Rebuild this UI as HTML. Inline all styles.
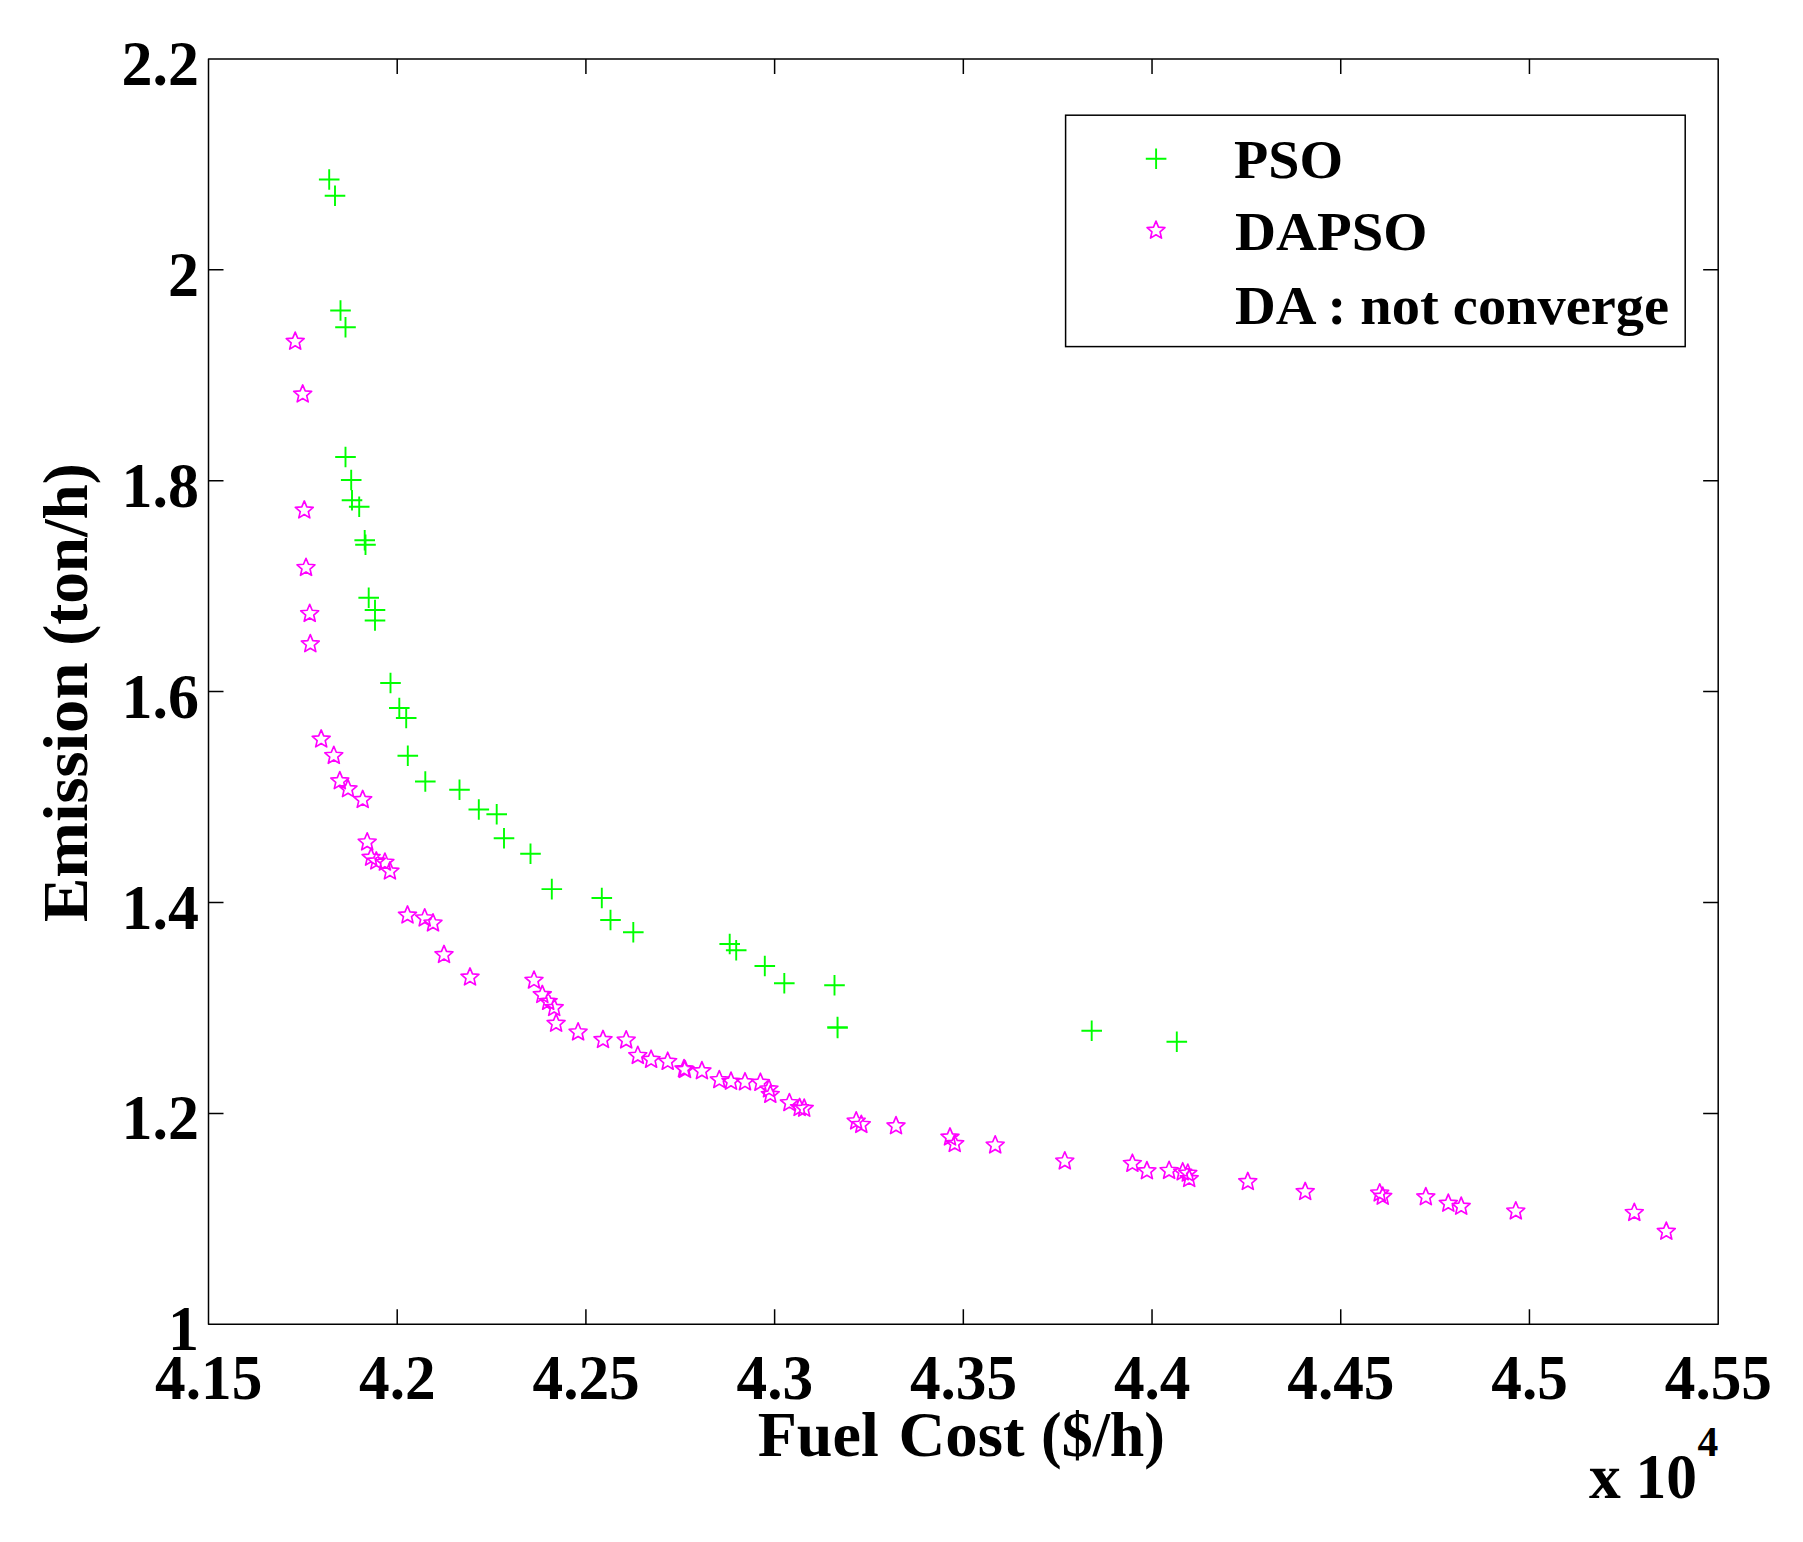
<!DOCTYPE html>
<html lang="en"><head><meta charset="utf-8"><title>Fuel Cost vs Emission</title>
<style>html,body{margin:0;padding:0;background:#fff}body{width:1803px;height:1542px;overflow:hidden}svg{display:block}text{font-family:"Liberation Serif","DejaVu Serif",serif;font-weight:bold;fill:#000}</style></head><body>
<svg width="1803" height="1542" viewBox="0 0 1803 1542">
<rect x="0" y="0" width="1803" height="1542" fill="#fff"/>
<g fill="none" stroke="#000" stroke-width="1.5" stroke-linejoin="round">
<rect x="208.5" y="58.9" width="1509.7" height="1265.4"/>
<path d="M397.21 1324.30V1309.30M397.21 58.90V73.90M585.91 1324.30V1309.30M585.91 58.90V73.90M774.62 1324.30V1309.30M774.62 58.90V73.90M963.33 1324.30V1309.30M963.33 58.90V73.90M1152.03 1324.30V1309.30M1152.03 58.90V73.90M1340.74 1324.30V1309.30M1340.74 58.90V73.90M1529.44 1324.30V1309.30M1529.44 58.90V73.90M208.50 1113.40H223.50M1718.15 1113.40H1703.15M208.50 902.50H223.50M1718.15 902.50H1703.15M208.50 691.60H223.50M1718.15 691.60H1703.15M208.50 480.70H223.50M1718.15 480.70H1703.15M208.50 269.80H223.50M1718.15 269.80H1703.15"/>
</g>
<g font-size="63.5" text-anchor="middle">
<text x="208.7" y="1398.9" textLength="107.2" lengthAdjust="spacingAndGlyphs">4.15</text>
<text x="397.4" y="1398.9" textLength="76.6" lengthAdjust="spacingAndGlyphs">4.2</text>
<text x="586.1" y="1398.9" textLength="107.2" lengthAdjust="spacingAndGlyphs">4.25</text>
<text x="774.8" y="1398.9" textLength="76.6" lengthAdjust="spacingAndGlyphs">4.3</text>
<text x="963.5" y="1398.9" textLength="107.2" lengthAdjust="spacingAndGlyphs">4.35</text>
<text x="1152.2" y="1398.9" textLength="76.6" lengthAdjust="spacingAndGlyphs">4.4</text>
<text x="1340.9" y="1398.9" textLength="107.2" lengthAdjust="spacingAndGlyphs">4.45</text>
<text x="1529.6" y="1398.9" textLength="76.6" lengthAdjust="spacingAndGlyphs">4.5</text>
<text x="1718.4" y="1398.9" textLength="107.2" lengthAdjust="spacingAndGlyphs">4.55</text>
</g>
<g font-size="63.5" text-anchor="end">
<text x="199.0" y="1350.3" textLength="31.0" lengthAdjust="spacingAndGlyphs">1</text>
<text x="199.0" y="1139.4" textLength="77.4" lengthAdjust="spacingAndGlyphs">1.2</text>
<text x="199.0" y="928.5" textLength="77.4" lengthAdjust="spacingAndGlyphs">1.4</text>
<text x="199.0" y="717.6" textLength="77.4" lengthAdjust="spacingAndGlyphs">1.6</text>
<text x="199.0" y="506.7" textLength="77.4" lengthAdjust="spacingAndGlyphs">1.8</text>
<text x="199.0" y="295.8" textLength="31.0" lengthAdjust="spacingAndGlyphs">2</text>
<text x="199.0" y="84.9" textLength="77.4" lengthAdjust="spacingAndGlyphs">2.2</text>
</g>
<text y="1456.4" font-size="63"><tspan x="757.7" textLength="121" lengthAdjust="spacingAndGlyphs">Fuel</tspan> <tspan x="898.5" textLength="126" lengthAdjust="spacingAndGlyphs">Cost</tspan> <tspan x="1041" textLength="124" lengthAdjust="spacingAndGlyphs">($/h)</tspan></text>
<text transform="translate(86.7 922.3) rotate(-90)" font-size="63"><tspan x="0" textLength="260" lengthAdjust="spacingAndGlyphs">Emission</tspan> <tspan x="276.5" textLength="182.5" lengthAdjust="spacingAndGlyphs">(ton/h)</tspan></text>
<text x="1589" y="1497.9" font-size="63.5">x</text>
<text x="1635.5" y="1497.9" font-size="63.5" textLength="61.5" lengthAdjust="spacingAndGlyphs">10</text>
<text x="1697.6" y="1455.8" font-size="41.5">4</text>
<path fill="none" stroke="#00ff00" stroke-width="1.9" d="M318.90 179.50H339.50M329.20 169.20V189.80M324.70 195.80H345.30M335.00 185.50V206.10M330.20 310.50H350.80M340.50 300.20V320.80M335.20 327.20H355.80M345.50 316.90V337.50M335.20 457.00H355.80M345.50 446.70V467.30M340.90 480.00H361.50M351.20 469.70V490.30M341.70 500.20H362.30M352.00 489.90V510.50M348.90 506.80H369.50M359.20 496.50V517.10M354.40 540.20H375.00M364.70 529.90V550.50M355.20 544.80H375.80M365.50 534.50V555.10M358.40 597.80H379.00M368.70 587.50V608.10M364.70 610.00H385.30M375.00 599.70V620.30M364.70 620.50H385.30M375.00 610.20V630.80M380.20 683.00H400.80M390.50 672.70V693.30M389.00 708.00H409.60M399.30 697.70V718.30M395.90 718.00H416.50M406.20 707.70V728.30M397.50 755.70H418.10M407.80 745.40V766.00M415.00 781.50H435.60M425.30 771.20V791.80M449.20 789.70H469.80M459.50 779.40V800.00M468.50 809.50H489.10M478.80 799.20V819.80M486.40 814.30H507.00M496.70 804.00V824.60M493.70 838.30H514.30M504.00 828.00V848.60M520.20 853.80H540.80M530.50 843.50V864.10M541.50 889.10H562.10M551.80 878.80V899.40M591.50 898.00H612.10M601.80 887.70V908.30M600.20 920.00H620.80M610.50 909.70V930.30M623.00 932.20H643.60M633.30 921.90V942.50M719.40 944.00H740.00M729.70 933.70V954.30M725.90 950.30H746.50M736.20 940.00V960.60M754.50 966.00H775.10M764.80 955.70V976.30M774.00 983.30H794.60M784.30 973.00V993.60M824.20 985.20H844.80M834.50 974.90V995.50M827.20 1027.10H847.80M837.50 1016.80V1037.40M827.30 1027.90H847.90M837.60 1017.60V1038.20M1081.40 1030.80H1102.00M1091.70 1020.50V1041.10M1166.50 1041.70H1187.10M1176.80 1031.40V1052.00"/>
<path fill="none" stroke="#ff00ff" stroke-width="1.65" stroke-linejoin="round" d="M295.20 332.10L297.69 338.08L304.14 338.60L299.22 342.81L300.73 349.10L295.20 345.73L289.67 349.10L291.18 342.81L286.26 338.60L292.71 338.08ZM302.70 384.90L305.19 390.88L311.64 391.40L306.72 395.61L308.23 401.90L302.70 398.53L297.17 401.90L298.68 395.61L293.76 391.40L300.21 390.88ZM304.30 500.90L306.79 506.88L313.24 507.40L308.32 511.61L309.83 517.90L304.30 514.53L298.77 517.90L300.28 511.61L295.36 507.40L301.81 506.88ZM306.00 558.30L308.49 564.28L314.94 564.80L310.02 569.01L311.53 575.30L306.00 571.93L300.47 575.30L301.98 569.01L297.06 564.80L303.51 564.28ZM309.70 604.30L312.19 610.28L318.64 610.80L313.72 615.01L315.23 621.30L309.70 617.93L304.17 621.30L305.68 615.01L300.76 610.80L307.21 610.28ZM310.30 634.60L312.79 640.58L319.24 641.10L314.32 645.31L315.83 651.60L310.30 648.23L304.77 651.60L306.28 645.31L301.36 641.10L307.81 640.58ZM321.20 729.90L323.69 735.88L330.14 736.40L325.22 740.61L326.73 746.90L321.20 743.53L315.67 746.90L317.18 740.61L312.26 736.40L318.71 735.88ZM333.80 746.30L336.29 752.28L342.74 752.80L337.82 757.01L339.33 763.30L333.80 759.93L328.27 763.30L329.78 757.01L324.86 752.80L331.31 752.28ZM339.80 771.60L342.29 777.58L348.74 778.10L343.82 782.31L345.33 788.60L339.80 785.23L334.27 788.60L335.78 782.31L330.86 778.10L337.31 777.58ZM348.00 779.60L350.49 785.58L356.94 786.10L352.02 790.31L353.53 796.60L348.00 793.23L342.47 796.60L343.98 790.31L339.06 786.10L345.51 785.58ZM362.70 790.40L365.19 796.38L371.64 796.90L366.72 801.11L368.23 807.40L362.70 804.03L357.17 807.40L358.68 801.11L353.76 796.90L360.21 796.38ZM367.20 832.80L369.69 838.78L376.14 839.30L371.22 843.51L372.73 849.80L367.20 846.43L361.67 849.80L363.18 843.51L358.26 839.30L364.71 838.78ZM371.10 848.10L373.59 854.08L380.04 854.60L375.12 858.81L376.63 865.10L371.10 861.73L365.57 865.10L367.08 858.81L362.16 854.60L368.61 854.08ZM376.30 851.90L378.79 857.88L385.24 858.40L380.32 862.61L381.83 868.90L376.30 865.53L370.77 868.90L372.28 862.61L367.36 858.40L373.81 857.88ZM384.90 853.00L387.39 858.98L393.84 859.50L388.92 863.71L390.43 870.00L384.90 866.63L379.37 870.00L380.88 863.71L375.96 859.50L382.41 858.98ZM389.90 861.90L392.39 867.88L398.84 868.40L393.92 872.61L395.43 878.90L389.90 875.53L384.37 878.90L385.88 872.61L380.96 868.40L387.41 867.88ZM407.50 905.90L409.99 911.88L416.44 912.40L411.52 916.61L413.03 922.90L407.50 919.53L401.97 922.90L403.48 916.61L398.56 912.40L405.01 911.88ZM424.70 908.80L427.19 914.78L433.64 915.30L428.72 919.51L430.23 925.80L424.70 922.43L419.17 925.80L420.68 919.51L415.76 915.30L422.21 914.78ZM433.00 913.80L435.49 919.78L441.94 920.30L437.02 924.51L438.53 930.80L433.00 927.43L427.47 930.80L428.98 924.51L424.06 920.30L430.51 919.78ZM444.00 945.40L446.49 951.38L452.94 951.90L448.02 956.11L449.53 962.40L444.00 959.03L438.47 962.40L439.98 956.11L435.06 951.90L441.51 951.38ZM470.00 967.90L472.49 973.88L478.94 974.40L474.02 978.61L475.53 984.90L470.00 981.53L464.47 984.90L465.98 978.61L461.06 974.40L467.51 973.88ZM534.00 971.00L536.49 976.98L542.94 977.50L538.02 981.71L539.53 988.00L534.00 984.63L528.47 988.00L529.98 981.71L525.06 977.50L531.51 976.98ZM542.30 985.40L544.79 991.38L551.24 991.90L546.32 996.11L547.83 1002.40L542.30 999.03L536.77 1002.40L538.28 996.11L533.36 991.90L539.81 991.38ZM548.20 992.20L550.69 998.18L557.14 998.70L552.22 1002.91L553.73 1009.20L548.20 1005.83L542.67 1009.20L544.18 1002.91L539.26 998.70L545.71 998.18ZM554.20 998.40L556.69 1004.38L563.14 1004.90L558.22 1009.11L559.73 1015.40L554.20 1012.03L548.67 1015.40L550.18 1009.11L545.26 1004.90L551.71 1004.38ZM556.10 1014.10L558.59 1020.08L565.04 1020.60L560.12 1024.81L561.63 1031.10L556.10 1027.73L550.57 1031.10L552.08 1024.81L547.16 1020.60L553.61 1020.08ZM578.10 1022.80L580.59 1028.78L587.04 1029.30L582.12 1033.51L583.63 1039.80L578.10 1036.43L572.57 1039.80L574.08 1033.51L569.16 1029.30L575.61 1028.78ZM603.00 1030.40L605.49 1036.38L611.94 1036.90L607.02 1041.11L608.53 1047.40L603.00 1044.03L597.47 1047.40L598.98 1041.11L594.06 1036.90L600.51 1036.38ZM626.20 1030.80L628.69 1036.78L635.14 1037.30L630.22 1041.51L631.73 1047.80L626.20 1044.43L620.67 1047.80L622.18 1041.51L617.26 1037.30L623.71 1036.78ZM637.80 1046.30L640.29 1052.28L646.74 1052.80L641.82 1057.01L643.33 1063.30L637.80 1059.93L632.27 1063.30L633.78 1057.01L628.86 1052.80L635.31 1052.28ZM651.10 1050.20L653.59 1056.18L660.04 1056.70L655.12 1060.91L656.63 1067.20L651.10 1063.83L645.57 1067.20L647.08 1060.91L642.16 1056.70L648.61 1056.18ZM667.70 1052.20L670.19 1058.18L676.64 1058.70L671.72 1062.91L673.23 1069.20L667.70 1065.83L662.17 1069.20L663.68 1062.91L658.76 1058.70L665.21 1058.18ZM684.00 1059.60L686.49 1065.58L692.94 1066.10L688.02 1070.31L689.53 1076.60L684.00 1073.23L678.47 1076.60L679.98 1070.31L675.06 1066.10L681.51 1065.58ZM685.00 1060.40L687.49 1066.38L693.94 1066.90L689.02 1071.11L690.53 1077.40L685.00 1074.03L679.47 1077.40L680.98 1071.11L676.06 1066.90L682.51 1066.38ZM701.90 1061.60L704.39 1067.58L710.84 1068.10L705.92 1072.31L707.43 1078.60L701.90 1075.23L696.37 1078.60L697.88 1072.31L692.96 1068.10L699.41 1067.58ZM719.30 1070.50L721.79 1076.48L728.24 1077.00L723.32 1081.21L724.83 1087.50L719.30 1084.13L713.77 1087.50L715.28 1081.21L710.36 1077.00L716.81 1076.48ZM731.00 1072.10L733.49 1078.08L739.94 1078.60L735.02 1082.81L736.53 1089.10L731.00 1085.73L725.47 1089.10L726.98 1082.81L722.06 1078.60L728.51 1078.08ZM745.00 1072.70L747.49 1078.68L753.94 1079.20L749.02 1083.41L750.53 1089.70L745.00 1086.33L739.47 1089.70L740.98 1083.41L736.06 1079.20L742.51 1078.68ZM760.40 1073.20L762.89 1079.18L769.34 1079.70L764.42 1083.91L765.93 1090.20L760.40 1086.83L754.87 1090.20L756.38 1083.91L751.46 1079.70L757.91 1079.18ZM769.00 1079.70L771.49 1085.68L777.94 1086.20L773.02 1090.41L774.53 1096.70L769.00 1093.33L763.47 1096.70L764.98 1090.41L760.06 1086.20L766.51 1085.68ZM770.30 1085.20L772.79 1091.18L779.24 1091.70L774.32 1095.91L775.83 1102.20L770.30 1098.83L764.77 1102.20L766.28 1095.91L761.36 1091.70L767.81 1091.18ZM789.40 1093.50L791.89 1099.48L798.34 1100.00L793.42 1104.21L794.93 1110.50L789.40 1107.13L783.87 1110.50L785.38 1104.21L780.46 1100.00L786.91 1099.48ZM799.60 1098.40L802.09 1104.38L808.54 1104.90L803.62 1109.11L805.13 1115.40L799.60 1112.03L794.07 1115.40L795.58 1109.11L790.66 1104.90L797.11 1104.38ZM804.20 1099.10L806.69 1105.08L813.14 1105.60L808.22 1109.81L809.73 1116.10L804.20 1112.73L798.67 1116.10L800.18 1109.81L795.26 1105.60L801.71 1105.08ZM856.20 1111.80L858.69 1117.78L865.14 1118.30L860.22 1122.51L861.73 1128.80L856.20 1125.43L850.67 1128.80L852.18 1122.51L847.26 1118.30L853.71 1117.78ZM861.30 1115.30L863.79 1121.28L870.24 1121.80L865.32 1126.01L866.83 1132.30L861.30 1128.93L855.77 1132.30L857.28 1126.01L852.36 1121.80L858.81 1121.28ZM896.00 1116.60L898.49 1122.58L904.94 1123.10L900.02 1127.31L901.53 1133.60L896.00 1130.23L890.47 1133.60L891.98 1127.31L887.06 1123.10L893.51 1122.58ZM950.00 1127.90L952.49 1133.88L958.94 1134.40L954.02 1138.61L955.53 1144.90L950.00 1141.53L944.47 1144.90L945.98 1138.61L941.06 1134.40L947.51 1133.88ZM954.70 1134.40L957.19 1140.38L963.64 1140.90L958.72 1145.11L960.23 1151.40L954.70 1148.03L949.17 1151.40L950.68 1145.11L945.76 1140.90L952.21 1140.38ZM995.20 1135.80L997.69 1141.78L1004.14 1142.30L999.22 1146.51L1000.73 1152.80L995.20 1149.43L989.67 1152.80L991.18 1146.51L986.26 1142.30L992.71 1141.78ZM1064.80 1151.80L1067.29 1157.78L1073.74 1158.30L1068.82 1162.51L1070.33 1168.80L1064.80 1165.43L1059.27 1168.80L1060.78 1162.51L1055.86 1158.30L1062.31 1157.78ZM1132.40 1154.20L1134.89 1160.18L1141.34 1160.70L1136.42 1164.91L1137.93 1171.20L1132.40 1167.83L1126.87 1171.20L1128.38 1164.91L1123.46 1160.70L1129.91 1160.18ZM1146.90 1161.60L1149.39 1167.58L1155.84 1168.10L1150.92 1172.31L1152.43 1178.60L1146.90 1175.23L1141.37 1178.60L1142.88 1172.31L1137.96 1168.10L1144.41 1167.58ZM1169.10 1161.30L1171.59 1167.28L1178.04 1167.80L1173.12 1172.01L1174.63 1178.30L1169.10 1174.93L1163.57 1178.30L1165.08 1172.01L1160.16 1167.80L1166.61 1167.28ZM1182.70 1162.70L1185.19 1168.68L1191.64 1169.20L1186.72 1173.41L1188.23 1179.70L1182.70 1176.33L1177.17 1179.70L1178.68 1173.41L1173.76 1169.20L1180.21 1168.68ZM1187.80 1164.00L1190.29 1169.98L1196.74 1170.50L1191.82 1174.71L1193.33 1181.00L1187.80 1177.63L1182.27 1181.00L1183.78 1174.71L1178.86 1170.50L1185.31 1169.98ZM1189.20 1169.40L1191.69 1175.38L1198.14 1175.90L1193.22 1180.11L1194.73 1186.40L1189.20 1183.03L1183.67 1186.40L1185.18 1180.11L1180.26 1175.90L1186.71 1175.38ZM1247.80 1172.40L1250.29 1178.38L1256.74 1178.90L1251.82 1183.11L1253.33 1189.40L1247.80 1186.03L1242.27 1189.40L1243.78 1183.11L1238.86 1178.90L1245.31 1178.38ZM1305.20 1182.40L1307.69 1188.38L1314.14 1188.90L1309.22 1193.11L1310.73 1199.40L1305.20 1196.03L1299.67 1199.40L1301.18 1193.11L1296.26 1188.90L1302.71 1188.38ZM1379.70 1183.80L1382.19 1189.78L1388.64 1190.30L1383.72 1194.51L1385.23 1200.80L1379.70 1197.43L1374.17 1200.80L1375.68 1194.51L1370.76 1190.30L1377.21 1189.78ZM1382.70 1187.10L1385.19 1193.08L1391.64 1193.60L1386.72 1197.81L1388.23 1204.10L1382.70 1200.73L1377.17 1204.10L1378.68 1197.81L1373.76 1193.60L1380.21 1193.08ZM1425.80 1187.60L1428.29 1193.58L1434.74 1194.10L1429.82 1198.31L1431.33 1204.60L1425.80 1201.23L1420.27 1204.60L1421.78 1198.31L1416.86 1194.10L1423.31 1193.58ZM1448.30 1194.10L1450.79 1200.08L1457.24 1200.60L1452.32 1204.81L1453.83 1211.10L1448.30 1207.73L1442.77 1211.10L1444.28 1204.81L1439.36 1200.60L1445.81 1200.08ZM1461.20 1197.10L1463.69 1203.08L1470.14 1203.60L1465.22 1207.81L1466.73 1214.10L1461.20 1210.73L1455.67 1214.10L1457.18 1207.81L1452.26 1203.60L1458.71 1203.08ZM1515.80 1201.80L1518.29 1207.78L1524.74 1208.30L1519.82 1212.51L1521.33 1218.80L1515.80 1215.43L1510.27 1218.80L1511.78 1212.51L1506.86 1208.30L1513.31 1207.78ZM1634.30 1203.30L1636.79 1209.28L1643.24 1209.80L1638.32 1214.01L1639.83 1220.30L1634.30 1216.93L1628.77 1220.30L1630.28 1214.01L1625.36 1209.80L1631.81 1209.28ZM1666.30 1222.10L1668.79 1228.08L1675.24 1228.60L1670.32 1232.81L1671.83 1239.10L1666.30 1235.73L1660.77 1239.10L1662.28 1232.81L1657.36 1228.60L1663.81 1228.08Z"/>
<rect x="1065.6" y="115.2" width="619.6" height="231.4" fill="#fff" stroke="#000" stroke-width="1.5"/>
<path fill="none" stroke="#00ff00" stroke-width="1.9" d="M1145.80 158.70H1166.40M1156.10 148.40V169.00"/>
<path fill="none" stroke="#ff00ff" stroke-width="1.65" stroke-linejoin="round" d="M1156.00 221.10L1158.49 227.08L1164.94 227.60L1160.02 231.81L1161.53 238.10L1156.00 234.73L1150.47 238.10L1151.98 231.81L1147.06 227.60L1153.51 227.08Z"/>
<g font-size="54">
<text x="1234" y="177.6" textLength="109" lengthAdjust="spacingAndGlyphs">PSO</text>
<text x="1235" y="250.4" textLength="192.5" lengthAdjust="spacingAndGlyphs">DAPSO</text>
<text x="1235" y="323.6" textLength="434" lengthAdjust="spacingAndGlyphs">DA : not converge</text>
</g>
</svg></body></html>
